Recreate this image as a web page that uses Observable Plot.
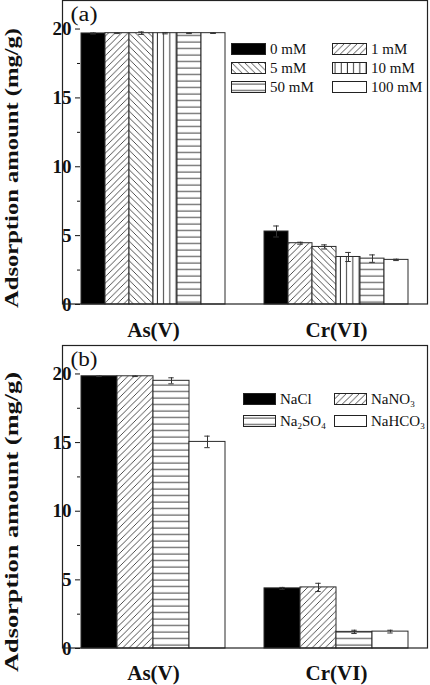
<!DOCTYPE html>
<html>
<head>
<meta charset="utf-8">
<script src="https://cdn.jsdelivr.net/npm/d3@7"></script>
<script src="https://cdn.jsdelivr.net/npm/@observablehq/plot@0.6"></script>
<style>
  html, body { margin: 0; padding: 0; background: #fff; }
  #wrap { position: relative; width: 430px; height: 685px; font-family: "Liberation Serif", "Times New Roman", serif; color: #111; overflow: hidden; }
  #wrap svg { display: block; }
  .leg { position: absolute; display: flex; align-items: center; height: 12px; font-size: 15px; white-space: nowrap; }
  .leg svg { flex: none; }
  .leg span { margin-left: 4px; line-height: 12px; }
  .leg sub { font-size: 9px; vertical-align: -3px; line-height: 0; }
</style>
</head>
<body>
<svg width="0" height="0" style="position:absolute">
  <defs>
    <pattern id="hatchF" patternUnits="userSpaceOnUse" width="6.5" height="6.5">
      <rect width="6.5" height="6.5" fill="#fff"/>
      <path d="M-1,1 L1,-1 M0,6.5 L6.5,0 M5.5,7.5 L7.5,5.5" stroke="#222" stroke-width="0.8"/>
    </pattern>
    <pattern id="hatchB" patternUnits="userSpaceOnUse" width="6.5" height="6.5">
      <rect width="6.5" height="6.5" fill="#fff"/>
      <path d="M-1,5.5 L1,7.5 M0,0 L6.5,6.5 M5.5,-1 L7.5,1" stroke="#222" stroke-width="0.8"/>
    </pattern>
    <pattern id="vert" patternUnits="userSpaceOnUse" width="6.2" height="10">
      <rect width="6.2" height="10" fill="#fff"/>
      <path d="M3,0 L3,10" stroke="#222" stroke-width="0.9"/>
    </pattern>
    <pattern id="horiz" patternUnits="userSpaceOnUse" width="10" height="6.5">
      <rect width="10" height="6.5" fill="#fff"/>
      <path d="M0,3 L10,3" stroke="#222" stroke-width="0.9"/>
    </pattern>
  </defs>
</svg>
<div id="wrap"></div>
<script>
// ---- data ----
const groups = ["As(V)", "Cr(VI)"];
const yTicks = [0, 5, 10, 15, 20];
const yMinorTicks = [2.5, 7.5, 12.5, 17.5];
const yLabel = "Adsorption amount (mg/g)";

// panel (a): ionic strength
const concSeries = ["0 mM", "1 mM", "5 mM", "10 mM", "50 mM", "100 mM"];
const concAs = [19.68, 19.70, 19.70, 19.70, 19.70, 19.70];
const concAsErr = [0.04, 0.03, 0.09, 0.05, 0.03, 0.02];
const concCr = [5.30, 4.45, 4.18, 3.45, 3.33, 3.24];
const concCrErr = [0.40, 0.07, 0.15, 0.33, 0.27, 0.05];
const concFills = ["#000", "url(#hatchF)", "url(#hatchB)", "url(#vert)", "url(#horiz)", "#fff"];

// panel (b): co-existing salts
const saltSeries = ["NaCl", "NaNO3", "Na2SO4", "NaHCO3"];
const saltAs = [19.83, 19.83, 19.50, 15.05];
const saltAsErr = [0.02, 0.02, 0.22, 0.42];
const saltCr = [4.38, 4.45, 1.21, 1.23];
const saltCrErr = [0.07, 0.30, 0.12, 0.10];
const saltFills = ["#000", "url(#hatchF)", "url(#horiz)", "#fff"];

const W = 430, ML = 62, MR = 2;
const FONT = "'Liberation Serif', 'Times New Roman', serif";
const wrap = document.getElementById("wrap");

function makePanel(p) {
  const rows = [];
  groups.forEach((g, gi) => p.series.forEach((s, si) => rows.push({
    group: g, series: s,
    value: (gi ? p.crV : p.asV)[si],
    err: (gi ? p.crE : p.asE)[si],
    fill: p.fills[si]
  })));
  const innerW = W - ML - MR;
  const step = innerW / 2, bw = step * 0.8, sub = bw / p.series.length;
  const capInset = (sub - 6) / 2;

  const chart = Plot.plot({
    width: W, height: p.height,
    marginLeft: ML, marginRight: MR, marginTop: p.marginTop, marginBottom: p.marginBottom,
    style: { fontFamily: FONT, color: "#111", background: "transparent", overflow: "visible" },
    fx: { domain: groups, paddingInner: 0.2, paddingOuter: 0.1 },
    x: { domain: p.series, padding: 0, axis: null },
    y: { domain: [0, 22] },
    color: { type: "identity" },
    marks: [
      Plot.barY(rows, { fx: "group", x: "series", y: "value", fill: "fill", stroke: "#2a2a2a", strokeWidth: 1 }),
      Plot.ruleX(rows, { fx: "group", x: "series", y1: d => d.value - d.err, y2: d => d.value + d.err, stroke: "#333", strokeWidth: 1 }),
      Plot.tickY(rows, { fx: "group", x: "series", y: d => d.value + d.err, stroke: "#333", strokeWidth: 1, insetLeft: capInset, insetRight: capInset }),
      Plot.tickY(rows, { fx: "group", x: "series", y: d => d.value - d.err, stroke: "#333", strokeWidth: 1, insetLeft: capInset, insetRight: capInset }),
      Plot.axisY({ ticks: yTicks, tickSize: 5, tickPadding: 4, fontSize: 19, fontWeight: "bold", label: null }),
      Plot.axisY({ ticks: yMinorTicks, tickSize: 3, tickFormat: () => "", label: null }),
      Plot.axisFx({ anchor: "bottom", tickSize: 0, tickPadding: p.fxPad, fontSize: 21, fontWeight: "bold", label: null })
    ]
  });

  const svg = d3.select(chart.tagName.toLowerCase() === "svg" ? chart : chart.querySelector("svg"));
  // outer frame
  svg.append("rect")
    .attr("x", ML + 0.5).attr("y", p.marginTop - 0.5)
    .attr("width", innerW - 1).attr("height", p.height - p.marginBottom - p.marginTop + 0.5)
    .attr("fill", "none").attr("stroke", "#222").attr("stroke-width", 1.2);
  // y label
  svg.append("text")
    .attr("transform", `translate(${p.labelX},${p.labelY}) rotate(-90)`)
    .attr("text-anchor", "middle")
    .attr("font-size", 19).attr("font-weight", "bold")
    .attr("font-family", FONT)
    .attr("fill", "#111")
    .attr("textLength", p.labelLen).attr("lengthAdjust", "spacingAndGlyphs")
    .text(yLabel);
  // panel label
  svg.append("text")
    .attr("x", 70.5).attr("y", p.marginTop + p.panelDy)
    .attr("text-anchor", "start")
    .attr("font-size", 20)
    .attr("font-family", FONT)
    .attr("fill", "#111")
    .attr("textLength", 27).attr("lengthAdjust", "spacingAndGlyphs")
    .text(p.panel);

  const holder = document.createElement("div");
  holder.style.position = "relative";
  holder.appendChild(chart);
  wrap.appendChild(holder);

  // legend
  p.series.forEach((s, i) => {
    const col = i % 2, row = Math.floor(i / 2);
    const item = document.createElement("div");
    item.className = "leg";
    item.style.left = p.legX[col] + "px";
    item.style.top = p.legY[row] + "px";
    const sw = p.swW;
    const label = p.subscripts ? s.replace(/(\d)/g, "<sub>$1</sub>") : s;
    item.innerHTML = `<svg width="${sw}" height="12"><rect x="0.5" y="0.5" width="${sw - 1}" height="11" fill="${p.fills[i]}" stroke="#222" stroke-width="1"/></svg><span>${label}</span>`;
    holder.appendChild(item);
  });
}

makePanel({
  series: concSeries, asV: concAs, asE: concAsErr, crV: concCr, crE: concCrErr, fills: concFills,
  height: 343, marginTop: 1, marginBottom: 39, fxPad: 18,
  labelX: 17.5, labelY: 168, labelLen: 280, panel: "(a)", panelDy: 20, subscripts: false,
  legX: [231, 332], legY: [43, 62, 81], swW: 35
});
makePanel({
  series: saltSeries, asV: saltAs, asE: saltAsErr, crV: saltCr, crE: saltCrErr, fills: saltFills,
  height: 342, marginTop: 3, marginBottom: 37, fxPad: 17,
  labelX: 17.5, labelY: 179, labelLen: 300, panel: "(b)", panelDy: 20, subscripts: true,
  legX: [243, 334], legY: [393 - 343, 415 - 343], swW: 33
});
</script>
</body>
</html>
